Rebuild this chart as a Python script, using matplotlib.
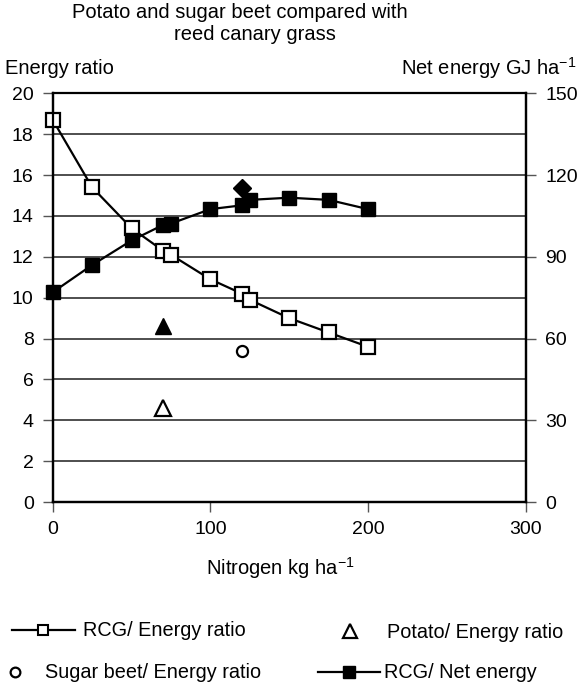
import matplotlib
matplotlib.use("Agg")
import matplotlib.pyplot as plt
from matplotlib.lines import Line2D

plt.rcParams['font.family'] = ['Liberation Sans', 'DejaVu Sans']
plt.rcParams['mathtext.fontset'] = 'custom'
plt.rcParams['mathtext.rm'] = 'Liberation Sans'

# --- data ---
nitrogen = [0, 25, 50, 70, 75, 100, 120, 125, 150, 175, 200]
rcg_ratio = [18.7, 15.4, 13.4, 12.3, 12.1, 10.9, 10.2, 9.9, 9.0, 8.3, 7.6]
rcg_net = [77, 87, 96, 101.7, 102.2, 107.5, 108.9, 110.9, 111.7, 110.9, 107.5]

potato_n = [70]
potato_ratio = [4.6]
potato_net = [64.5]

beet_n = [120]
beet_ratio = [7.4]
beet_net = [115.4]

left_ticks = [0, 2, 4, 6, 8, 10, 12, 14, 16, 18, 20]
right_ticks = [0, 30, 60, 90, 120, 150]
x_ticks = [0, 100, 200, 300]

# --- figure ---
fig = plt.figure(figsize=(5.8, 6.86), dpi=100)
ax = fig.add_axes([0.0909, 0.268, 0.8155, 0.596])
ax2 = ax.twinx()

ax.set_xlim(0, 300)
ax.set_ylim(0, 20)
ax2.set_ylim(0, 150)
ax.set_xticks(x_ticks)
ax.set_yticks(left_ticks)
ax2.set_yticks(right_ticks)

ax.yaxis.grid(True, color='#1e1e1e', linewidth=1.1)
ax.set_axisbelow(True)

for a in (ax, ax2):
    for s in a.spines.values():
        s.set_linewidth(1.6)
        s.set_color('black')
ax.spines['top'].set_linewidth(1.3)

ax.tick_params(axis='y', direction='out', length=7.2, width=1, pad=6.5,
               labelsize=14, color='#555555')
ax.tick_params(axis='x', direction='out', length=7.2, width=1, pad=6.5,
               labelsize=14, color='#555555')
ax2.tick_params(axis='y', direction='out', length=7.2, width=1, pad=7,
                labelsize=14, color='#555555')

# RCG energy ratio (left axis)
ax.plot(nitrogen, rcg_ratio, color='black', linewidth=1.6, marker='s',
        markersize=10, markerfacecolor='white', markeredgecolor='black',
        markeredgewidth=1.6, zorder=3, clip_on=False)
ax.plot(potato_n, potato_ratio, linestyle='none', marker='^', markersize=11,
        markerfacecolor='white', markeredgecolor='black', markeredgewidth=1.6)
ax.plot(beet_n, beet_ratio, linestyle='none', marker='o', markersize=8,
        markerfacecolor='white', markeredgecolor='black', markeredgewidth=1.6)

# net energy (right axis)
ax2.plot(nitrogen, rcg_net, color='black', linewidth=1.6, marker='s',
         markersize=10, markerfacecolor='black', markeredgecolor='black',
         zorder=3, clip_on=False)
ax2.plot(potato_n, potato_net, linestyle='none', marker='^', markersize=12,
         color='black')
ax2.plot(beet_n, beet_net, linestyle='none', marker='D', markersize=9,
         color='black')

# titles and axis labels
fig.text(240 / 580, 1 - 13 / 686, "Potato and sugar beet compared with",
         ha='center', va='center', fontsize=14.5)
fig.text(255 / 580, 1 - 34 / 686, "reed canary grass",
         ha='center', va='center', fontsize=14.5)
fig.text(5 / 580, 1 - 68 / 686, "Energy ratio", ha='left', va='center',
         fontsize=14.5)
fig.text(576 / 580, 1 - 68 / 686, r"Net energy GJ ha$^{\mathregular{-1}}$",
         ha='right', va='center', fontsize=14.5)
fig.text(280 / 580, 1 - 568 / 686, r"Nitrogen kg ha$^{\mathregular{-1}}$",
         ha='center', va='center', fontsize=14.5)

# legend, entries placed like the original
h_rcg = Line2D([], [], color='black', linewidth=1.6, marker='s', markersize=7,
               markerfacecolor='white', markeredgewidth=1.5)
h_pot = Line2D([], [], linestyle='none', marker='^', markersize=10,
               markerfacecolor='white', markeredgecolor='black', markeredgewidth=1.6)
h_beet = Line2D([], [], linestyle='none', marker='o', markersize=7,
                markerfacecolor='white', markeredgecolor='black', markeredgewidth=1.6)
h_net = Line2D([], [], color='black', linewidth=1.6, marker='s', markersize=9,
               markerfacecolor='black')

entries = [
    (h_rcg, "RCG/ Energy ratio", 12, 631, 3.15, 0.4),
    (h_pot, "Potato/ Energy ratio", 340, 632, 1.0, 1.35),
    (h_beet, "Sugar beet/ Energy ratio", 5, 673, 1.0, 1.0),
    (h_net, "RCG/ Net energy", 318, 673, 3.1, 0.2),
]
for handle, label, px, py, hl, tp in entries:
    fig.legend([handle], [label], loc='center left',
               bbox_to_anchor=(px / 580, 1 - py / 686),
               frameon=False, borderpad=0, borderaxespad=0,
               handlelength=hl, handletextpad=tp, fontsize=14.3)

fig.savefig("out.png", dpi=100)
